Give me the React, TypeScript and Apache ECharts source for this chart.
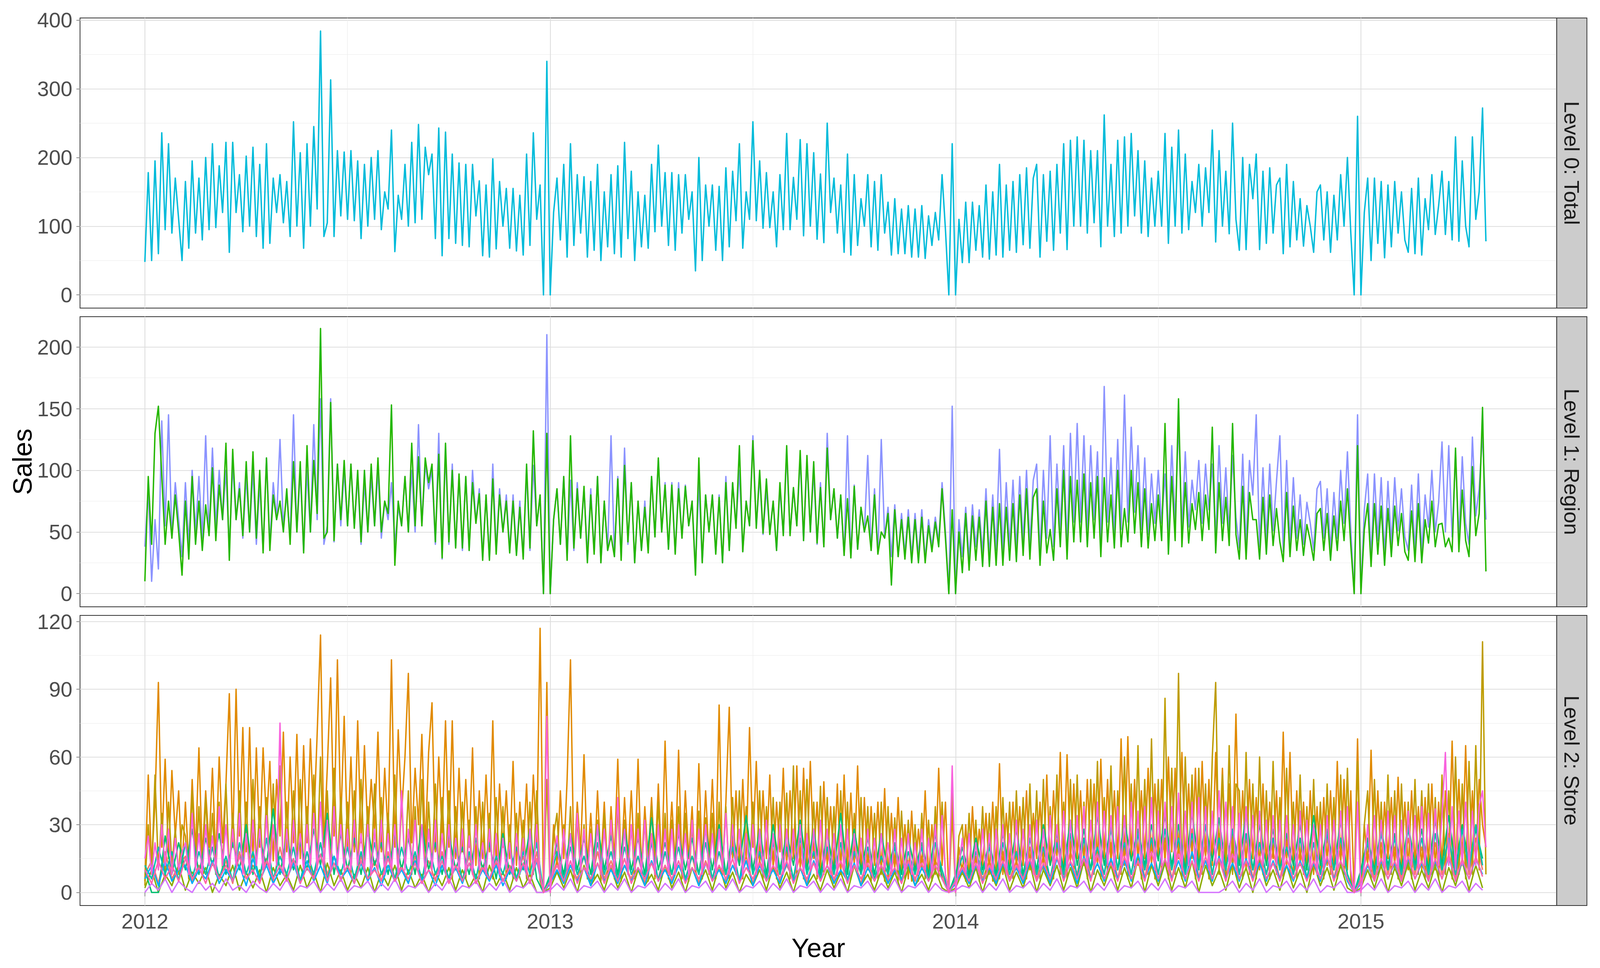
import React, { useEffect, useRef } from "react";
import * as echarts from "echarts";

// ---------- DATA (0.1-year segments) ----------
// Level 0 / Level 1 / main stores: 12 points per 0.1 year; minor stores: 6 points per 0.1 year.
const START_YEAR = 2012;
const SEG_YEARS = 0.1;

const YEAR_TICKS = [2012, 2013, 2014, 2015];
const TOTAL_TICKS = [0, 100, 200, 300, 400];
const REGION_TICKS = [0, 50, 100, 150, 200];
const STORE_TICKS = [0, 30, 60, 90, 120];
const PANEL_LABELS = ["Level 0: Total", "Level 1: Region", "Level 2: Store"];

const TOTAL: number[][] = [
  [48,178,50,195,60,236,95,220,90,170,110,50],
  [165,68,195,90,170,80,200,95,220,98,188,120],
  [222,62,222,120,175,92,202,100,215,85,190,68],
  [220,75,170,120,175,105,165,85,252,100,207,68],
  [220,100,245,125,384,85,105,313,85,210,115,208],
  [110,210,108,195,82,190,100,200,110,210,95,150],
  [125,240,63,145,110,190,100,222,105,248,110,215],
  [175,205,82,243,57,237,82,205,75,192,72,190],
  [70,190,115,166,57,160,55,198,67,165,100,155],
  [68,155,64,145,58,205,72,236,110,160,0,340],
  [0,120,170,80,190,55,220,72,175,90,172,55],
  [165,65,190,50,150,70,175,60,188,55,222,82],
  [180,50,150,70,145,68,190,92,218,100,178,72],
  [178,65,175,90,175,110,150,35,200,50,160,100],
  [160,65,158,50,185,70,180,108,220,68,150,110],
  [252,108,195,97,178,98,150,70,175,95,235,95],
  [171,110,226,86,220,100,207,81,176,76,250,120],
  [170,90,160,62,205,58,175,72,140,100,175,70],
  [165,65,175,90,135,58,140,60,125,60,130,55],
  [125,55,130,53,115,72,120,80,175,95,0,220],
  [0,110,47,135,47,135,65,130,55,160,52,150],
  [58,190,55,160,65,165,62,175,73,185,68,170],
  [190,55,175,78,180,65,190,90,220,66,225,100],
  [230,100,225,90,210,105,210,70,262,100,190,85],
  [225,90,230,100,235,115,210,90,195,85,170,100],
  [180,100,235,75,215,100,240,90,205,95,165,120],
  [190,100,185,120,240,77,210,100,180,89,250,110],
  [65,200,66,190,140,205,66,180,75,185,90,160],
  [170,60,190,70,165,80,140,71,130,100,62,150],
  [160,80,150,62,145,80,175,100,200,90,0,260],
  [0,120,170,50,170,75,165,54,160,70,165,90],
  [150,80,62,155,60,170,58,140,95,175,88,130],
  [180,88,165,80,230,78,195,100,70,230,110,150],
  [272,78],
];

const REGION_A: number[][] = [
  [38,85,10,60,20,140,55,145,45,90,60,30],
  [90,40,100,50,95,45,128,48,118,55,100,60],
  [100,35,105,60,90,45,95,50,100,40,90,35],
  [110,40,90,60,125,55,80,45,145,50,100,35],
  [100,50,137,60,158,40,55,158,42,105,55,100],
  [55,105,55,95,40,90,50,95,55,100,45,75],
  [60,90,40,70,55,95,50,100,50,137,55,105],
  [85,100,40,130,28,115,40,105,38,95,35,95],
  [35,100,58,85,30,80,28,105,35,85,50,80],
  [35,80,33,75,30,100,35,104,55,80,0,210],
  [0,60,85,40,95,28,92,35,90,45,85,30],
  [85,33,95,25,75,35,128,30,95,28,118,40],
  [90,25,75,35,75,35,95,46,108,50,90,36],
  [90,33,90,45,88,55,75,20,90,25,80,50],
  [80,33,80,25,95,35,90,55,100,34,75,55],
  [128,55,95,48,85,50,75,35,85,48,115,48],
  [85,55,110,43,108,50,100,40,90,38,130,60],
  [85,45,80,31,128,29,88,36,70,50,112,35],
  [85,33,125,45,70,30,72,30,65,32,68,30],
  [65,30,68,28,60,38,62,42,90,50,0,152],
  [0,60,30,70,28,72,38,68,33,85,30,80],
  [35,117,32,90,38,92,36,95,42,100,40,92],
  [105,32,100,45,128,38,105,52,120,38,130,58],
  [138,58,128,52,120,60,115,40,168,58,110,48],
  [125,52,161,58,135,66,120,52,110,48,97,57],
  [100,57,97,43,120,57,140,52,115,54,92,68],
  [108,57,105,68,105,44,120,57,102,50,112,62],
  [37,113,38,108,80,145,38,102,43,105,51,91],
  [128,34,108,40,94,45,80,40,74,57,35,85],
  [91,45,85,35,82,45,100,57,115,51,0,145],
  [0,68,97,28,97,43,94,31,91,40,94,51],
  [85,46,35,88,34,97,33,80,54,100,50,74],
  [123,50,120,46,112,44,111,57,40,127,63,85],
  [130,60],
];

const REGION_B: number[][] = [
  [10,95,40,130,152,96,40,75,45,80,50,15],
  [75,28,95,40,75,35,72,47,102,43,88,60],
  [122,27,117,60,85,47,107,50,115,45,100,33],
  [110,35,80,60,75,50,85,40,107,50,107,33],
  [120,50,108,65,215,45,50,155,43,105,60,108],
  [55,105,53,100,42,100,50,105,55,110,50,75],
  [65,153,23,75,55,95,50,122,55,111,55,110],
  [90,105,42,113,29,122,42,100,37,97,37,95],
  [35,90,57,81,27,80,27,93,32,80,50,75],
  [33,75,31,70,28,105,37,132,55,80,0,130],
  [0,60,85,40,95,27,128,37,85,45,87,25],
  [80,32,95,25,75,35,47,30,93,27,104,42],
  [90,25,75,35,70,33,95,46,110,50,88,36],
  [88,32,85,45,87,55,75,15,110,25,80,50],
  [80,32,78,25,90,35,90,53,120,34,75,55],
  [124,53,100,49,93,48,75,35,90,47,120,47],
  [86,55,116,43,112,50,107,41,86,38,118,60],
  [85,45,80,31,77,29,87,36,70,50,63,35],
  [80,32,50,45,65,7,68,30,60,28,62,25],
  [60,25,62,25,55,34,58,38,85,45,0,68],
  [0,50,17,65,19,63,27,62,22,75,22,70],
  [23,73,23,70,27,73,26,80,31,85,28,78],
  [85,23,75,33,52,27,85,38,100,28,95,42],
  [92,42,97,38,90,45,95,30,94,42,80,37],
  [100,38,69,42,100,49,90,38,85,37,73,43],
  [80,43,138,32,95,43,158,38,90,41,73,52],
  [82,43,80,52,135,33,90,43,78,39,138,48],
  [28,87,28,82,60,60,28,78,32,80,39,69],
  [42,26,82,30,71,35,60,31,56,43,27,65],
  [69,35,65,27,63,35,75,43,85,39,0,120],
  [0,52,73,22,73,32,71,23,69,30,71,39],
  [65,34,27,67,26,73,25,60,41,75,38,56],
  [57,38,45,34,118,34,84,43,30,103,47,65],
  [151,18],
];

const STORE_ORANGE: number[][] = [
  [5,52,12,40,93,20,59,15,54,25,45,10],
  [40,12,50,18,64,15,45,20,55,14,60,22],
  [48,88,20,90,25,73,18,73,15,64,20,64],
  [30,58,14,50,25,71,18,60,22,70,15,65],
  [22,68,30,70,114,20,55,95,25,103,30,78],
  [20,60,18,76,22,65,25,50,28,71,18,55],
  [25,103,20,72,35,60,97,22,55,30,70,20],
  [62,84,18,60,25,76,20,76,15,55,18,50],
  [20,64,12,45,15,52,18,76,12,48,20,45],
  [15,58,12,40,18,48,10,52,20,117,0,93],
  [0,30,12,45,15,50,103,10,40,18,61,12],
  [35,10,45,12,40,8,38,15,59,10,42,14],
  [45,12,59,10,38,15,42,12,48,10,67,15],
  [40,12,63,10,45,15,38,8,57,12,45,15],
  [50,12,83,10,40,82,15,45,12,50,15,73],
  [20,58,12,45,15,52,10,40,18,55,12,45],
  [15,56,10,55,12,58,15,40,10,49,12,38],
  [12,48,8,52,10,44,12,56,8,42,10,38],
  [12,40,8,46,6,35,10,42,8,30,6,36],
  [8,28,10,45,6,30,8,55,12,40,0,35],
  [0,20,8,30,6,38,10,28,12,35,8,40],
  [10,57,8,35,12,40,10,38,12,45,10,35],
  [15,40,10,52,12,45,15,62,12,61,14,48],
  [15,45,12,50,15,48,12,59,15,50,12,45],
  [15,68,12,69,15,50,12,45,15,55,12,48],
  [15,50,12,60,18,55,15,62,12,48,15,55],
  [12,58,15,50,12,62,15,55,12,48,15,79],
  [12,45,10,50,15,42,10,48,12,40,15,45],
  [10,71,12,62,10,45,12,40,10,45,8,38],
  [10,42,12,45,10,58,12,50,10,45,0,68],
  [0,30,12,63,10,45,12,40,15,42,10,51],
  [12,40,10,45,12,38,10,42,12,48,10,40],
  [12,45,15,67,10,50,12,65,10,45,12,50],
  [30,20],
];

const STORE_GOLD: number[][] = [
  [3,30,8,52,10,35,6,40,12,28,8,30],
  [25,6,45,10,38,8,42,12,35,8,40,10],
  [48,8,35,12,45,10,40,8,50,12,38,10],
  [42,10,48,12,56,8,40,10,45,12,50,8],
  [38,10,52,12,60,8,45,10,55,12,42,10],
  [40,8,45,10,50,12,38,8,48,10,42,8],
  [35,10,52,8,40,12,45,8,38,10,50,8],
  [40,10,48,8,42,10,45,6,38,8,40,6],
  [32,8,38,6,40,8,35,6,42,8,38,6],
  [30,6,35,8,32,6,40,8,45,5,0,50],
  [0,25,35,6,30,8,38,5,33,8,30,6],
  [28,6,32,5,35,8,30,6,38,5,32,8],
  [30,6,35,8,32,5,38,6,40,8,35,6],
  [32,8,38,6,35,5,30,8,36,6,33,8],
  [35,6,40,8,38,6,42,8,45,6,38,8],
  [40,8,45,6,38,8,42,6,40,8,44,6],
  [56,8,45,6,50,8,40,6,47,8,42,6],
  [38,6,45,8,40,6,35,8,42,6,38,5],
  [35,6,40,5,38,6,33,5,36,6,32,5],
  [30,5,35,6,32,5,38,6,40,8,0,44],
  [0,25,30,5,35,6,32,5,38,6,35,5],
  [38,6,42,8,40,6,45,8,42,6,48,8],
  [45,6,50,8,38,6,52,8,40,6,50,8],
  [52,8,40,6,50,8,58,6,42,8,56,6],
  [45,8,60,6,48,8,65,6,50,8,68,6],
  [50,8,86,6,55,8,97,6,60,8,52,6],
  [55,8,48,6,60,93,8,52,6,65,8,48],
  [45,6,62,8,48,6,60,8,45,6,58,8],
  [42,6,55,8,40,6,52,8,38,6,50,8],
  [40,6,48,8,42,6,52,8,55,6,0,58],
  [0,30,45,6,50,8,40,6,52,8,45,6],
  [48,8,40,6,50,8,45,6,48,8,42,6],
  [52,8,45,6,60,8,48,6,58,8,65,10],
  [111,8],
];

const STORE_PINK: number[][] = [
  [15,25,8,22,10,30,12,28,8,24,10,18],
  [22,8,35,10,26,8,30,12,25,10,38,12],
  [30,10,28,12,35,8,26,10,32,12,28,10],
  [34,10,30,12,75,8,28,10,32,12,26,10],
  [30,12,35,10,40,12,32,10,38,12,30,10],
  [28,10,32,12,26,10,30,8,28,10,32,8],
  [26,10,30,8,45,10,28,12,32,10,30,8],
  [28,10,32,8,26,10,30,8,24,10,28,8],
  [25,8,30,10,22,8,28,10,26,8,24,10],
  [22,8,26,10,24,8,28,10,30,8,0,78],
  [0,15,25,8,28,10,26,8,35,10,28,8],
  [26,10,30,8,28,10,32,8,42,10,28,8],
  [30,10,28,8,32,10,26,8,30,10,28,8],
  [28,8,30,10,26,8,32,10,28,8,30,10],
  [26,8,28,10,35,8,30,10,28,8,26,10],
  [30,8,28,10,32,8,26,10,30,8,28,10],
  [28,10,30,8,26,10,28,8,32,10,28,8],
  [26,8,30,10,28,8,26,10,24,8,28,10],
  [24,8,26,10,22,8,28,10,24,8,26,8],
  [22,8,28,10,24,8,30,10,34,8,0,56],
  [0,12,24,8,26,10,22,8,28,10,26,8],
  [28,10,30,8,26,10,32,8,28,10,30,8],
  [32,10,28,12,34,10,30,12,36,10,32,12],
  [34,12,38,10,32,12,40,10,36,12,34,10],
  [38,12,34,10,40,12,36,10,38,12,42,10],
  [36,12,40,10,38,12,44,10,36,12,40,10],
  [42,12,38,10,36,12,45,10,40,12,38,10],
  [35,10,38,12,34,10,36,12,32,10,34,12],
  [32,10,34,12,30,10,36,12,32,10,30,8],
  [30,10,34,12,32,10,36,12,38,10,0,40],
  [0,12,30,10,34,12,32,10,36,12,34,10],
  [32,10,36,12,34,10,38,12,35,10,37,12],
  [34,62,12,38,10,36,12,40,10,36,12,38],
  [45,20],
];

const STORE_GREEN: number[][] = [
  [10,0,0,25,8,22],[10,28,8,24,12,26],[8,22,10,30,8,24],[12,37,8,25,10,22],
  [10,28,12,35,8,26],[10,24,8,28,12,22],[8,26,10,24,8,30],[10,22,8,26,10,20],
  [8,24,10,22,6,26],[8,20,10,28,6,0],[8,22,8,26,10,24],[8,30,10,25,8,28],
  [10,24,8,33,10,22],[8,26,10,24,8,28],[10,30,8,26,12,34],[10,28,8,30,10,26],
  [12,32,10,28,8,26],[10,35,8,28,10,24],[8,26,10,22,8,24],[10,22,8,26,6,0],
  [8,20,8,24,10,22],[8,26,10,28,8,24],[10,30,12,26,10,32],[12,28,10,34,12,30],
  [10,32,14,28,12,30],[14,34,12,30,10,35],[12,30,14,33,10,28],[12,35,10,30,12,28],
  [10,26,12,30,10,34],[12,28,10,32,8,0],[10,24,10,28,12,26],[10,30,12,28,10,32],
  [12,34,10,30,12,28],[15],
];

const STORE_TEAL: number[][] = [
  [12,6,20,8,18,5],[22,6,18,8,20,6],[16,5,22,8,18,6],[24,6,16,8,20,5],
  [18,8,22,6,16,8],[20,6,18,5,22,8],[16,6,20,8,18,5],[22,8,16,6,20,5],
  [18,6,20,5,16,8],[20,6,18,8,22,0],[6,18,6,20,8,16],[5,22,8,18,6,20],
  [8,16,6,22,5,18],[8,20,6,16,8,22],[6,18,8,20,5,24],[8,18,6,22,8,20],
  [6,24,8,18,6,20],[8,22,5,18,8,20],[6,16,8,20,5,18],[8,20,6,22,10,0],
  [6,16,6,18,8,20],[6,22,8,18,6,24],[8,20,6,22,8,26],[6,24,10,20,8,28],
  [10,22,8,26,10,24],[8,28,10,24,8,26],[10,30,8,24,10,28],[8,26,10,22,8,24],
  [10,20,8,24,6,22],[8,26,10,24,8,0],[8,22,8,26,10,24],[8,28,10,24,8,26],
  [10,24,8,28,10,30],[12],
];

const STORE_SALMON: number[][] = [
  [8,14,4,18,6,12],[16,5,12,8,20,6],[14,4,18,6,12,8],[15,5,20,6,14,4],
  [18,6,22,8,16,5],[12,4,16,6,14,5],[18,6,12,4,16,6],[14,5,18,4,12,6],
  [16,4,12,6,14,5],[12,6,16,4,18,0],[5,14,5,12,6,16],[4,18,6,14,5,12],
  [6,16,4,14,6,18],[5,12,6,16,4,14],[6,18,5,12,6,16],[4,14,6,18,5,12],
  [6,16,4,14,6,18],[5,14,6,12,4,16],[6,12,5,16,4,14],[5,16,6,14,8,0],
  [5,12,5,16,6,14],[5,18,6,14,5,20],[6,16,5,22,6,18],[8,24,6,18,8,22],
  [6,20,8,26,6,22],[8,24,6,20,8,28],[6,22,8,26,6,20],[8,24,6,22,8,18],
  [6,20,8,18,6,22],[8,24,6,20,8,0],[6,18,6,22,8,20],[6,24,8,20,6,22],
  [8,26,6,22,8,24],[10],
];

const STORE_BLUE: number[][] = [
  [6,12,3,14,5,10],[12,4,10,6,14,4],[10,5,12,3,15,5],[12,4,10,6,13,4],
  [14,5,12,4,16,6],[10,4,13,5,11,3],[12,5,10,4,14,5],[10,3,12,5,11,4],
  [13,4,10,5,12,3],[10,5,12,4,14,0],[4,10,4,12,5,11],[3,13,5,10,4,12],
  [5,11,3,14,5,10],[4,12,5,11,3,13],[5,10,4,12,5,14],[3,12,5,10,4,13],
  [5,11,3,14,5,12],[4,10,5,13,3,11],[5,12,4,10,5,13],[3,11,5,12,6,0],
  [4,10,4,12,5,11],[4,13,5,11,4,14],[5,12,4,15,6,13],[4,16,6,13,5,15],
  [6,14,5,17,6,13],[5,15,6,14,5,18],[6,14,5,16,6,13],[5,15,6,13,5,14],
  [6,12,5,14,6,13],[5,15,6,14,5,0],[4,12,5,14,6,13],[5,15,6,13,5,14],
  [6,16,5,14,6,15],[8],
];

const STORE_OLIVE: number[][] = [
  [2,10,0,8,3,12],[1,9,4,11,0,8],[3,12,1,9,2,10],[0,11,3,8,1,12],
  [2,9,0,13,3,10],[1,8,2,11,0,9],[3,12,1,10,2,8],[0,9,3,11,1,10],
  [2,8,0,12,3,9],[1,11,2,8,0,0],[2,9,2,10,0,12],[3,8,1,11,2,9],
  [0,10,3,8,1,12],[2,9,0,11,3,10],[1,12,2,9,0,8],[3,10,1,12,2,9],
  [0,11,3,8,1,10],[2,9,0,12,3,8],[1,10,2,9,0,11],[3,8,1,10,2,0],
  [2,9,2,11,0,10],[3,12,1,9,2,13],[0,10,3,12,1,11],[2,14,0,10,3,12],
  [1,11,2,15,0,12],[3,13,1,11,2,14],[0,12,3,10,1,13],[2,11,0,14,3,10],
  [1,12,2,10,0,13],[3,11,1,12,2,0],[2,10,2,12,0,11],[3,13,1,10,2,12],
  [0,11,3,14,1,12],[2],
];

const STORE_PURPLE: number[][] = [
  [0,4,1,6,0,5],[2,0,5,1,4,0],[6,1,3,0,5,2],[0,4,1,6,0,3],
  [2,5,0,4,1,6],[0,3,2,5,0,4],[1,6,0,3,2,5],[0,4,1,6,0,3],
  [2,5,0,4,1,6],[0,3,2,5,0,0],[1,4,1,6,0,3],[2,5,0,4,1,6],
  [0,3,2,5,0,4],[1,6,0,3,2,5],[0,4,1,6,0,3],[2,5,0,4,1,6],
  [0,3,2,5,0,4],[1,6,0,3,2,5],[0,4,1,6,0,3],[2,5,0,4,1,0],
  [1,3,2,5,0,4],[1,6,0,3,2,5],[0,4,1,6,0,3],[2,5,0,4,1,6],
  [0,3,2,5,0,4],[1,6,0,3,2,5],[0,0,0,0,2,5],[0,4,1,6,0,3],
  [2,5,0,4,1,6],[0,3,2,5,0,0],[1,4,1,6,0,3],[2,5,0,4,1,6],
  [0,3,2,5,0,4],[1],
];

const STORE_ROSE: number[][] = [
  [10,4,14,6,12,5],[15,6,11,4,13,6],[12,5,16,6,10,4],[14,6,12,5,15,4],
  [11,6,17,5,13,6],[12,4,14,6,10,5],[15,5,11,6,13,4],[10,6,14,4,12,5],
  [13,4,11,6,14,5],[11,5,13,4,15,0],[5,12,5,14,4,11],[6,13,4,12,5,15],
  [4,11,6,13,5,12],[6,14,4,11,6,13],[5,12,6,15,4,11],[6,13,5,12,6,14],
  [4,11,6,13,5,12],[6,14,4,12,6,13],[5,12,6,11,4,14],[6,13,5,12,6,0],
  [5,11,5,13,4,12],[6,14,5,12,6,15],[5,13,6,16,5,14],[6,15,5,17,6,13],
  [5,16,6,14,5,18],[6,15,5,17,6,14],[5,16,6,15,5,17],[6,14,5,16,6,13],
  [5,15,6,13,5,14],[6,16,5,14,6,0],[5,13,5,15,6,14],[5,16,6,14,5,15],
  [6,17,5,15,6,16],[7],
];

// ---------- LAYOUT / STYLE (reference pixel space 4399 x 2479) ----------
const REF_W = 4399;
const REF_H = 2479;
const FONT = '"Liberation Sans", Arial, Helvetica, sans-serif';
const PANEL_LEFT = 220;
const PANEL_WIDTH = 4060;
const PANEL_TOPS = [46, 811, 1576];
const PANEL_H = 743;
const STRIP_W = 83;
const X_MIN = 2011.84;
const X_MAX = 2015.483;
const Y_MIN = [-19.2, -10.7, -5.8];
const Y_MAX = [403.1, 224.6, 122.7];
const Y_TICKS = [TOTAL_TICKS, REGION_TICKS, STORE_TICKS];
const LINE_W = 3.6;

function toPoints(segs: number[][], perSeg: number): [number, number][] {
  const pts: [number, number][] = [];
  segs.forEach((seg, s) => {
    seg.forEach((v, j) => {
      pts.push([START_YEAR + (s + j / perSeg) * SEG_YEARS, v]);
    });
  });
  return pts;
}

function lineSeries(name: string, segs: number[][], perSeg: number, panel: number, color: string) {
  return {
    name,
    type: "line",
    xAxisIndex: panel,
    yAxisIndex: panel,
    data: toPoints(segs, perSeg),
    showSymbol: false,
    symbol: "none",
    silent: true,
    animation: false,
    lineStyle: { color, width: LINE_W, join: "round" },
    itemStyle: { color },
  };
}

function buildOption(w: number, h: number) {
  const sx = w / REF_W;
  const sy = h / REF_H;
  const fs = sy;
  const X = (v: number) => v * sx;
  const Y = (v: number) => v * sy;

  const grids = PANEL_TOPS.map((top) => ({
    left: X(PANEL_LEFT),
    top: Y(top),
    width: X(PANEL_WIDTH),
    height: Y(PANEL_H),
    show: true,
    backgroundColor: "#FFFFFF",
    borderColor: "#333333",
    borderWidth: 2,
    containLabel: false,
  }));

  const xAxes = [0, 1, 2].map((i) => ({
    gridIndex: i,
    type: "value",
    min: X_MIN,
    max: X_MAX,
    splitNumber: 4,
    axisLine: { show: false },
    axisTick: {
      show: i === 2,
      customValues: YEAR_TICKS,
      length: 10 * sy,
      lineStyle: { color: "#8C8C8C", width: 2 },
    },
    axisLabel: {
      show: i === 2,
      customValues: YEAR_TICKS,
      formatter: (v: number) => String(Math.round(v)),
      margin: 13 * sy,
      fontSize: 54 * fs,
      fontFamily: FONT,
      color: "#4D4D4D",
    },
    splitLine: { show: true, lineStyle: { color: "#DEDEDE", width: 2.2 } },
    minorTick: { show: false, splitNumber: 2 },
    minorSplitLine: { show: true, lineStyle: { color: "#EBEBEB", width: 1.2 } },
  }));

  const yAxes = [0, 1, 2].map((i) => ({
    gridIndex: i,
    type: "value",
    min: Y_MIN[i],
    max: Y_MAX[i],
    axisLine: { show: false },
    axisTick: {
      show: true,
      customValues: Y_TICKS[i],
      length: 10 * sx,
      lineStyle: { color: "#8C8C8C", width: 2 },
    },
    axisLabel: {
      show: true,
      customValues: Y_TICKS[i],
      formatter: (v: number) => String(Math.round(v)),
      margin: 21 * sx,
      fontSize: 54 * fs,
      fontFamily: FONT,
      color: "#4D4D4D",
    },
    splitLine: { show: true, lineStyle: { color: "#DEDEDE", width: 2.2 } },
    minorTick: { show: false, splitNumber: 2 },
    minorSplitLine: { show: true, lineStyle: { color: "#EBEBEB", width: 1.2 } },
  }));

  const series = [
    lineSeries("Total", TOTAL, 12, 0, "#00BBDA"),
    lineSeries("Region A", REGION_A, 12, 1, "#8B93FF"),
    lineSeries("Region B", REGION_B, 12, 1, "#24B700"),
    lineSeries("Store 1", STORE_SALMON, 6, 2, "#F8766D"),
    lineSeries("Store 2", STORE_ORANGE, 12, 2, "#E18A00"),
    lineSeries("Store 3", STORE_GOLD, 12, 2, "#BE9C00"),
    lineSeries("Store 4", STORE_OLIVE, 6, 2, "#8CAB00"),
    lineSeries("Store 5", STORE_GREEN, 6, 2, "#00BE70"),
    lineSeries("Store 6", STORE_TEAL, 6, 2, "#00C1AB"),
    lineSeries("Store 7", STORE_BLUE, 6, 2, "#00ACFC"),
    lineSeries("Store 8", STORE_PURPLE, 6, 2, "#D575FE"),
    lineSeries("Store 9", STORE_PINK, 12, 2, "#F962DD"),
    lineSeries("Store 10", STORE_ROSE, 6, 2, "#FF65AC"),
  ];

  const textStyle = (text: string, size: number, fill: string) => ({
    text,
    fontSize: size * fs,
    fontFamily: FONT,
    fill,
    align: "center",
    verticalAlign: "middle",
    textAlign: "center",
    textVerticalAlign: "middle",
  });

  const graphic: any[] = [];
  PANEL_TOPS.forEach((top, i) => {
    graphic.push({
      type: "rect",
      shape: { x: X(PANEL_LEFT + PANEL_WIDTH), y: Y(top), width: X(STRIP_W), height: Y(PANEL_H) },
      style: { fill: "#CCCCCC", stroke: "#333333", lineWidth: 2 },
      z: 10,
    });
    graphic.push({
      type: "text",
      x: X(PANEL_LEFT + PANEL_WIDTH + STRIP_W / 2),
      y: Y(top + PANEL_H / 2),
      rotation: -Math.PI / 2,
      style: textStyle(PANEL_LABELS[i], 54, "#1A1A1A"),
      z: 11,
    });
  });
  graphic.push({
    type: "text",
    x: X(61),
    y: Y((PANEL_TOPS[0] + PANEL_TOPS[2] + PANEL_H) / 2),
    rotation: Math.PI / 2,
    style: textStyle("Sales", 68, "#000000"),
  });
  graphic.push({
    type: "text",
    x: X(PANEL_LEFT + PANEL_WIDTH / 2),
    y: Y(2427),
    style: textStyle("Year", 68, "#000000"),
  });

  return {
    animation: false,
    backgroundColor: "#FFFFFF",
    textStyle: { fontFamily: FONT },
    grid: grids,
    xAxis: xAxes,
    yAxis: yAxes,
    series,
    graphic,
  };
}

export default function App() {
  const ref = useRef<HTMLDivElement>(null);
  const w = Math.min((typeof window !== "undefined" && window.innerWidth) || REF_W, REF_W);
  const h = Math.min((typeof window !== "undefined" && window.innerHeight) || REF_H, REF_H);
  useEffect(() => {
    if (!ref.current) return;
    const chart = echarts.init(ref.current, null, { renderer: "svg", width: w, height: h });
    chart.setOption(buildOption(w, h) as any);
    return () => chart.dispose();
  }, []);
  return (
    <div
      ref={ref}
      style={{ position: "fixed", left: 0, top: 0, width: w, height: h, background: "#FFFFFF" }}
    />
  );
}
